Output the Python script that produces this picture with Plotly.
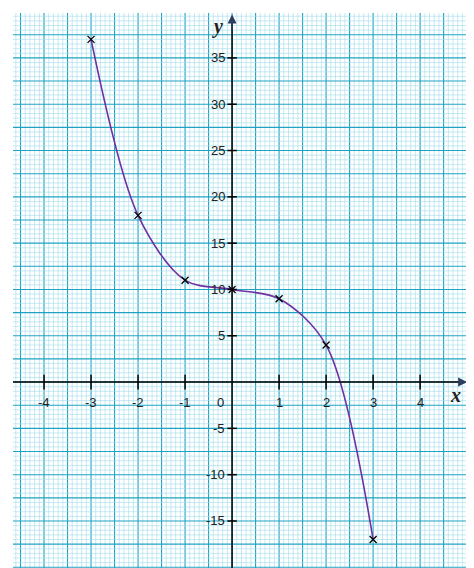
import plotly.graph_objects as go
import numpy as np

xs = [-3, -2, -1, 0, 1, 2, 3]
ys = [37, 18, 11, 10, 9, 4, -17]
xticks = [-4, -3, -2, -1, 1, 2, 3, 4]
yticks = [-15, -10, -5, 5, 10, 15, 20, 25, 30, 35]

X0, X1 = -4.66, 5.21
Y0, Y1 = -20.4, 39.85

fig = go.Figure()
fig.add_trace(go.Scatter(x=xs, y=ys, mode="lines", line=dict(color="#7030a0", width=1.6, shape="spline", smoothing=0.9), hoverinfo="skip"))
fig.add_trace(go.Scatter(x=xs, y=ys, mode="markers", marker=dict(symbol="x-thin", size=7, line=dict(color="black", width=1.3)), hoverinfo="skip"))

shapes = []
ax = "x"; ay = "y"
def vline(x, c, w):
    shapes.append(dict(type="line", x0=x, x1=x, y0=Y0, y1=Y1, xref=ax, yref=ay, line=dict(color=c, width=w), layer="below"))
def hline(y, c, w):
    shapes.append(dict(type="line", y0=y, y1=y, x0=X0, x1=X1, xref=ax, yref=ay, line=dict(color=c, width=w), layer="below"))
for i in range(-48, 53):
    x = i / 10
    major = (i % 5 == 0)
    vline(x, "#1fa3c4" if major else "#9fdcea", 1.1 if major else 0.6)
for i in range(-41, 80):
    y = i / 2
    major = (i % 5 == 0)
    hline(y, "#1fa3c4" if major else "#9fdcea", 1.1 if major else 0.6)
# axes
shapes.append(dict(type="line", x0=X0, x1=4.92, y0=0, y1=0, line=dict(color="black", width=1.5)))
shapes.append(dict(type="line", x0=0, x1=0, y0=Y0, y1=38.8, line=dict(color="black", width=1.5)))
for t in xticks:
    shapes.append(dict(type="line", x0=t, x1=t, y0=-0.8, y1=0.8, line=dict(color="black", width=1.5)))
for t in yticks:
    shapes.append(dict(type="line", x0=-0.1, x1=0.1, y0=t, y1=t, line=dict(color="black", width=1.5)))

ann = []
for t in xticks:
    ann.append(dict(x=t, y=-1.2, text=str(t), showarrow=False, yanchor="top", font=dict(size=13, family="Liberation Sans", color="#222")))
ann.append(dict(x=-0.12, y=-1.2, text="0", showarrow=False, yanchor="top", xanchor="right", font=dict(size=13, family="Liberation Sans", color="#222")))
for t in yticks:
    ann.append(dict(x=-0.1, y=t, text=str(t), showarrow=False, xanchor="right", font=dict(size=13, family="Liberation Sans", color="#222")))
# arrowheads
ann.append(dict(x=5.0, y=0, ax=4.8, ay=0, axref="x", ayref="y", showarrow=True, arrowhead=2, arrowsize=1.2, arrowwidth=1.5, text=""))
ann.append(dict(x=0, y=39.7, ax=0, ay=37.8, axref="x", ayref="y", showarrow=True, arrowhead=2, arrowsize=1.2, arrowwidth=1.5, text=""))
ann.append(dict(x=4.75, y=-1.4, text="<b><i>x</i></b>", showarrow=False, font=dict(size=20, family="Liberation Serif", color="#222")))
ann.append(dict(x=-0.3, y=38.4, text="<b><i>y</i></b>", showarrow=False, font=dict(size=20, family="Liberation Serif", color="#222")))

fig.update_layout(width=474, height=568, margin=dict(l=5, r=5, t=5, b=5),
                  paper_bgcolor="white", plot_bgcolor="white", showlegend=False,
                  shapes=shapes, annotations=ann,
                  xaxis=dict(range=[X0, X1], showgrid=False, zeroline=False, showticklabels=False, fixedrange=True),
                  yaxis=dict(range=[Y0, Y1], showgrid=False, zeroline=False, showticklabels=False, fixedrange=True))
fig.write_html("out.html")
